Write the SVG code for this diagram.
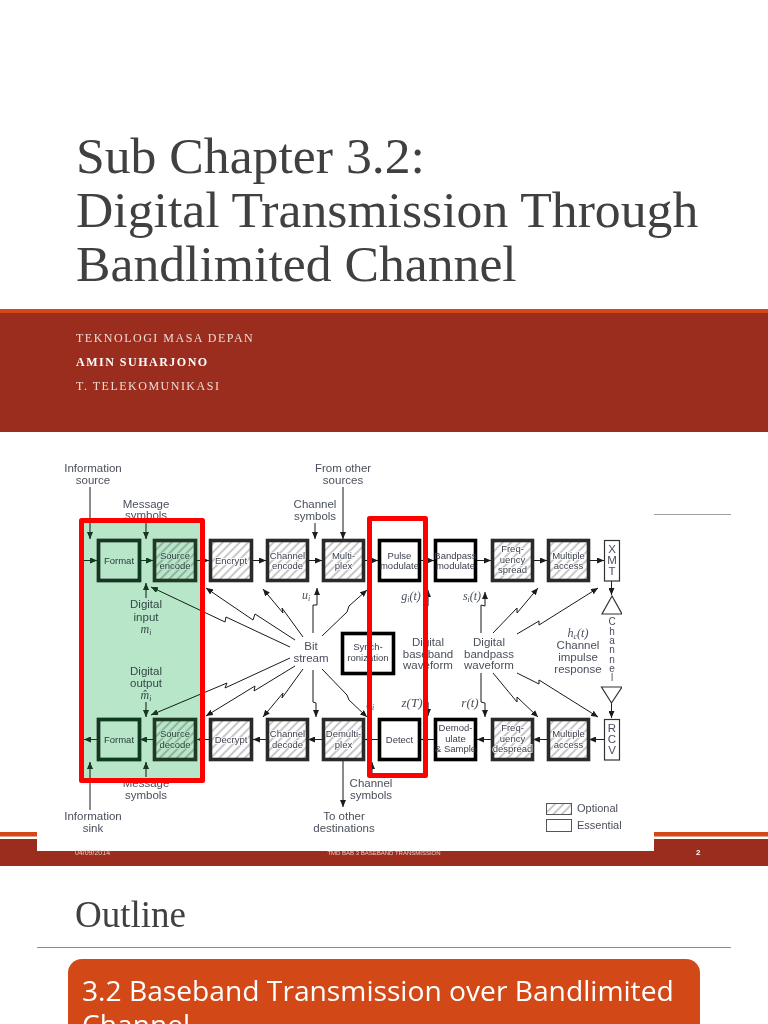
<svg xmlns="http://www.w3.org/2000/svg" width="768" height="1024" viewBox="0 0 768 1024">
<style>
.title{font-family:"Liberation Serif",serif;font-size:51.7px;fill:#404040}
.sub{font-family:"Liberation Serif",serif;font-size:12px;letter-spacing:1.5px;fill:#eedbd6}
.foot{font-family:"Liberation Sans",sans-serif;font-size:7px;fill:#e6c8c0}
.l{font-family:"Liberation Sans",sans-serif;font-size:11.5px;fill:#4a4f5c;text-anchor:middle}
.b{font-family:"Liberation Sans",sans-serif;font-size:9.5px;fill:#3a3e4c;text-anchor:middle}
.h{paint-order:stroke;stroke:#fff;stroke-width:1.5px}
.m{font-family:"Liberation Serif",serif;font-style:italic;font-size:12px;fill:#4a4f5c;text-anchor:middle}
.opt{fill:url(#hatch);stroke:#2a2a2a;stroke-width:3.6}
.ess{fill:#fff;stroke:#000;stroke-width:3.6}
.c{fill:none;stroke:#1a1a1a;stroke-width:1;marker-end:url(#a)}
.red{fill:none;stroke:#f00;stroke-width:5;stroke-linejoin:round}
</style>
<defs>
<pattern id="hatch" patternUnits="userSpaceOnUse" width="6" height="6" patternTransform="rotate(45)">
<rect width="6" height="6" fill="#fff"/><line x1="1" y1="0" x2="1" y2="6" stroke="#ababab" stroke-width="1.3"/>
</pattern>
<marker id="a" markerUnits="userSpaceOnUse" markerWidth="8" markerHeight="6" refX="7" refY="3" orient="auto"><path d="M0 0L7 3L0 6Z" fill="#1a1a1a"/></marker>
<filter id="soft" x="0" y="0" width="1" height="1"><feGaussianBlur stdDeviation="0.4"/></filter>
</defs>
<rect width="768" height="1024" fill="#fff"/>
<g id="title"><text class="title" x="76" y="173">Sub Chapter 3.2:</text><text class="title" x="76" y="227">Digital Transmission Through</text><text class="title" x="76" y="281">Bandlimited Channel</text></g>
<g id="band">
<rect y="309" width="768" height="4" fill="#d34817"/><rect y="313" width="768" height="119" fill="#9b2d1f"/>
<text class="sub" x="76" y="342">TEKNOLOGI MASA DEPAN</text>
<text class="sub" x="76" y="366" font-weight="bold" style="fill:#fff">AMIN SUHARJONO</text>
<text class="sub" x="76" y="390">T. TELEKOMUNIKASI</text>
</g>
<line id="rule1" x1="654" y1="514.500" x2="731" y2="514.500" stroke="#a0a0a0"/>
<g id="footer">
<rect y="832" width="768" height="4.500" fill="#d34817"/><rect y="839" width="768" height="27" fill="#9b2d1f"/>
</g>
<rect id="picture" x="37" y="433" width="617" height="418" fill="#fff"/>
<g id="footer-text">
<text class="foot" x="75" y="854.500">04/09/2014</text><text class="foot" x="384" y="854.500" text-anchor="middle" style="font-size:6px">TMD BAB 3 BASEBAND TRANSMISSION</text><text class="foot" x="696" y="855" font-weight="bold" style="font-size:8px;fill:#fff">2</text>
</g>
<g id="figure" filter="url(#soft)">
<g id="connectors">
<path class="c" d="M90 487V539"/><path class="c" d="M146 523V539"/><path class="c" d="M343 487V539"/><path class="c" d="M315 523V539"/>
<path class="c" d="M146 598V583"/><path class="c" d="M146 702V717"/><path class="c" d="M146 777V762"/><path class="c" d="M90 810V762"/><path class="c" d="M372 777V762"/><path class="c" d="M343 761V807"/>
<path class="c" d="M84 560.500H97"/><path class="c" d="M140 560.500H153"/><path class="c" d="M197 560.500H209"/><path class="c" d="M253 560.500H266"/><path class="c" d="M308 560.500H322"/><path class="c" d="M365 560.500H378"/><path class="c" d="M421 560.500H434"/><path class="c" d="M477 560.500H491"/><path class="c" d="M533 560.500H547"/><path class="c" d="M589 560.500H604"/>
<path class="c" d="M97 739.500H84"/><path class="c" d="M153 739.500H140"/><path class="c" d="M209 739.500H197"/><path class="c" d="M266 739.500H253"/><path class="c" d="M322 739.500H308"/><path class="c" d="M378 739.500H365"/><path class="c" d="M434 739.500H421"/><path class="c" d="M491 739.500H477"/><path class="c" d="M547 739.500H533"/><path class="c" d="M604 739.500H589"/>
<path class="c" d="M611.500 581V595"/><path class="c" d="M611.500 703V718"/>
<path class="c" d="M295 640L255 614L253 620L206 588"/><path class="c" d="M290 647L226 617L225 622L151 587"/><path class="c" d="M303 637L282 608L283 613L263 589"/><path class="c" d="M313 633V605L317 605V588"/><path class="c" d="M322 636L347 612L349 606L367 590"/>
<path class="c" d="M295 666L254 691L255 686L206 716"/><path class="c" d="M290 658L225 688L227 683L151 715"/><path class="c" d="M303 669L282 698L283 693L263 717"/><path class="c" d="M313 670V702L316 703V717"/><path class="c" d="M322 669L347 695L349 700L367 717"/>
<path class="c" d="M428 606V590"/><path class="c" d="M428 702V716"/>
<path class="c" d="M481 633V605L485 606V592"/><path class="c" d="M493 633L517 608L517 613L538 588"/><path class="c" d="M517 634L539 621L539 625L598 588"/>
<path class="c" d="M481 673V702L485 703V717"/><path class="c" d="M493 673L517 702L517 697L538 717"/><path class="c" d="M517 673L539 684L539 680L598 717"/>
</g>
<g id="n-format-top"><rect class="ess" x="98.500" y="540.500" width="41" height="40"/><text class="b" x="119" y="564">Format</text></g>
<g id="n-source-encode"><rect class="opt" x="154.500" y="540.500" width="41" height="40"/><text class="b h" x="175" y="558.500">Source</text><text class="b h" x="175" y="569">encode</text></g>
<g id="n-encrypt"><rect class="opt" x="210.500" y="540.500" width="41" height="40"/><text class="b h" x="231" y="564">Encrypt</text></g>
<g id="n-channel-encode"><rect class="opt" x="267.500" y="540.500" width="40" height="40"/><text class="b h" x="287.500" y="558.500">Channel</text><text class="b h" x="287.500" y="569">encode</text></g>
<g id="n-multiplex"><rect class="opt" x="323.500" y="540.500" width="40" height="40"/><text class="b h" x="343.500" y="558.500">Multi-</text><text class="b h" x="343.500" y="569">plex</text></g>
<g id="n-pulse"><rect class="ess" x="379.500" y="540.500" width="40" height="40"/><text class="b" x="399.500" y="558.500">Pulse</text><text class="b" x="399.500" y="569">modulate</text></g>
<g id="n-bandpass"><rect class="ess" x="435.500" y="540.500" width="40" height="40"/><text class="b" x="455.500" y="558.500">Bandpass</text><text class="b" x="455.500" y="569">modulate</text></g>
<g id="n-freq-spread"><rect class="opt" x="492.500" y="540.500" width="40" height="40"/><text class="b h" x="512.500" y="552">Freq-</text><text class="b h" x="512.500" y="563">uency</text><text class="b h" x="512.500" y="573">spread</text></g>
<g id="n-multiple-top"><rect class="opt" x="548.500" y="540.500" width="40" height="40"/><text class="b h" x="568.500" y="558.500">Multiple</text><text class="b h" x="568.500" y="569">access</text></g>
<g id="n-xmt"><rect x="604.500" y="540.500" width="15" height="40.500" fill="#fff" stroke="#333" stroke-width="1.200"/><text class="l" x="612" y="553">X</text><text class="l" x="612" y="564">M</text><text class="l" x="612" y="575">T</text></g>
<g id="n-format-bottom"><rect class="ess" x="98.500" y="719.500" width="41" height="40"/><text class="b" x="119" y="743">Format</text></g>
<g id="n-source-decode"><rect class="opt" x="154.500" y="719.500" width="41" height="40"/><text class="b h" x="175" y="737">Source</text><text class="b h" x="175" y="747.500">decode</text></g>
<g id="n-decrypt"><rect class="opt" x="210.500" y="719.500" width="41" height="40"/><text class="b h" x="231" y="743">Decrypt</text></g>
<g id="n-channel-decode"><rect class="opt" x="267.500" y="719.500" width="40" height="40"/><text class="b h" x="287.500" y="737">Channel</text><text class="b h" x="287.500" y="747.500">decode</text></g>
<g id="n-demultiplex"><rect class="opt" x="323.500" y="719.500" width="40" height="40"/><text class="b h" x="343.500" y="737">Demulti-</text><text class="b h" x="343.500" y="747.500">plex</text></g>
<g id="n-detect"><rect class="ess" x="379.500" y="719.500" width="40" height="40"/><text class="b" x="399.500" y="743">Detect</text></g>
<g id="n-demodulate"><rect class="ess" x="435.500" y="719.500" width="40" height="40"/><text class="b" x="455.500" y="731">Demod-</text><text class="b" x="455.500" y="741.500">ulate</text><text class="b" x="455.500" y="752">&amp; Sample</text></g>
<g id="n-freq-despread"><rect class="opt" x="492.500" y="719.500" width="40" height="40"/><text class="b h" x="512.500" y="731">Freq-</text><text class="b h" x="512.500" y="741.500">uency</text><text class="b h" x="512.500" y="752">despread</text></g>
<g id="n-multiple-bottom"><rect class="opt" x="548.500" y="719.500" width="40" height="40"/><text class="b h" x="568.500" y="737">Multiple</text><text class="b h" x="568.500" y="747.500">access</text></g>
<g id="n-rcv"><rect x="604.500" y="719.500" width="15" height="40.500" fill="#fff" stroke="#333" stroke-width="1.200"/><text class="l" x="612" y="732">R</text><text class="l" x="612" y="743">C</text><text class="l" x="612" y="754">V</text></g>
<g id="n-sync"><rect class="ess" x="342.500" y="633.500" width="51" height="40"/><text class="b" x="368" y="650">Synch-</text><text class="b" x="368" y="661">ronization</text></g>
<g id="n-tx-antenna"><path d="M612 596L602 614H622Z" fill="#fff" stroke="#333" stroke-width="1.200"/></g>
<g id="n-rx-antenna"><path d="M601.500 687H622L611.500 703Z" fill="#fff" stroke="#333" stroke-width="1.200"/></g>
<g id="labels">
<text class="l" x="93" y="472">Information</text><text class="l" x="93" y="484">source</text>
<text class="l" x="146" y="508">Message</text><text class="l" x="146" y="519">symbols</text>
<text class="l" x="343" y="472">From other</text><text class="l" x="343" y="484">sources</text>
<text class="l" x="315" y="508">Channel</text><text class="l" x="315" y="520">symbols</text>
<text class="l" x="146" y="608">Digital</text><text class="l" x="146" y="621">input</text><text class="m" x="146" y="633">m<tspan font-size="8" dy="2">i</tspan></text>
<text class="l" x="146" y="675">Digital</text><text class="l" x="146" y="687">output</text><text class="m" x="146" y="699">m̂<tspan font-size="8" dy="2">i</tspan></text>
<text class="l" x="311" y="650">Bit</text><text class="l" x="311" y="662">stream</text>
<text class="l" x="428" y="646">Digital</text><text class="l" x="428" y="658">baseband</text><text class="l" x="428" y="669">waveform</text>
<text class="l" x="489" y="646">Digital</text><text class="l" x="489" y="658">bandpass</text><text class="l" x="489" y="669">waveform</text>
<text class="m" x="578" y="637">h<tspan font-size="8" dy="2">c</tspan><tspan dy="-2">(t)</tspan></text>
<text class="l" x="578" y="649">Channel</text><text class="l" x="578" y="661">impulse</text><text class="l" x="578" y="673">response</text>
<text class="m" x="306" y="599">u<tspan font-size="8" dy="2">i</tspan></text><text class="m" x="411" y="600">g<tspan font-size="8" dy="2">i</tspan><tspan dy="-2">(t)</tspan></text><text class="m" x="472" y="600">s<tspan font-size="8" dy="2">i</tspan><tspan dy="-2">(t)</tspan></text>
<text class="m" x="370" y="708">u<tspan font-size="8" dy="2">i</tspan></text><text class="m" x="412" y="707" style="font-size:13px">z(T)</text><text class="m" x="470" y="707" style="font-size:13px">r(t)</text>
<text class="l" x="93" y="820">Information</text><text class="l" x="93" y="832">sink</text>
<text class="l" x="146" y="787">Message</text><text class="l" x="146" y="799">symbols</text>
<text class="l" x="371" y="787">Channel</text><text class="l" x="371" y="799">symbols</text>
<text class="l" x="344" y="820">To other</text><text class="l" x="344" y="832">destinations</text>
<text class="l" x="612" y="625" style="font-size:10px">C</text><text class="l" x="612" y="635" style="font-size:10px">h</text><text class="l" x="612" y="644" style="font-size:10px">a</text><text class="l" x="612" y="653" style="font-size:10px">n</text><text class="l" x="612" y="663" style="font-size:10px">n</text><text class="l" x="612" y="672" style="font-size:10px">e</text><text class="l" x="612" y="681" style="font-size:10px">l</text>
</g>
<g id="legend">
<rect x="546.500" y="803.500" width="25" height="11" fill="url(#hatch)" stroke="#555"/><text class="l" x="577" y="812" style="text-anchor:start;font-size:11px">Optional</text>
<rect x="546.500" y="819.500" width="25" height="12" fill="#fff" stroke="#555"/><text class="l" x="577" y="829" style="text-anchor:start;font-size:11px">Essential</text>
</g>
</g>
<g id="highlight-left">
<rect x="81.500" y="520.500" width="121" height="260" fill="#b8e6c9" style="mix-blend-mode:multiply"/>
<rect x="81.500" y="520.500" width="121" height="260" fill="#0f3a22" style="mix-blend-mode:lighten"/>
<rect class="red" x="81.500" y="520.500" width="121" height="260"/>
</g>
<g id="highlight-middle"><rect class="red" x="369.500" y="518.500" width="56" height="257"/></g>
<g id="outline">
<text x="75" y="927" font-family="Liberation Serif, serif" font-size="37" fill="#404040">Outline</text>
<line x1="37" y1="947.500" x2="731" y2="947.500" stroke="#8a8a8a"/>
<rect x="68" y="959" width="632" height="90" rx="14" fill="#d34817"/>
<text x="82" y="1001" font-family="Open Sans, sans-serif" font-size="28.200" fill="#fff">3.2 Baseband Transmission over Bandlimited</text>
<text x="82" y="1035" font-family="Open Sans, sans-serif" font-size="28.200" fill="#fff">Channel</text>
</g>
</svg>
